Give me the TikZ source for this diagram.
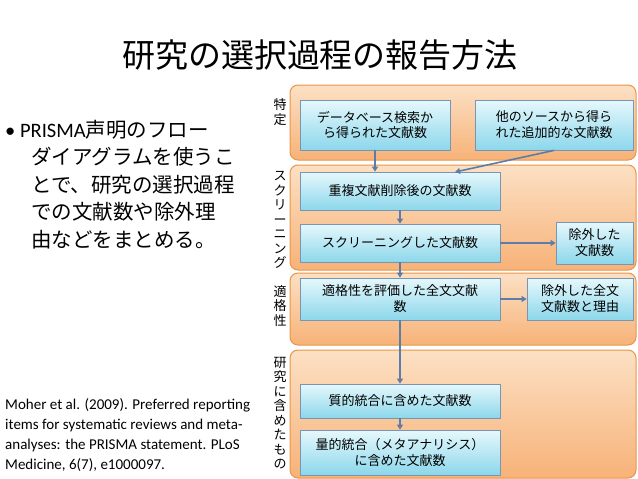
\documentclass[tikz,border=0pt]{standalone}
\usepackage{fontspec}
\setmainfont{Noto Sans CJK JP}
\newfontfamily\latinf{Carlito}
\usetikzlibrary{arrows.meta,positioning}
\definecolor{panelA}{RGB}{252,224,196}
\definecolor{panelB}{RGB}{247,178,120}
\definecolor{panelD}{RGB}{233,150,70}
\definecolor{boxA}{RGB}{230,248,252}
\definecolor{boxB}{RGB}{140,215,235}
\definecolor{boxD}{RGB}{120,150,180}
\definecolor{arr}{RGB}{90,125,170}
\tikzset{
 panel/.style={draw=panelD,line width=1pt,rounded corners=8pt,top color=panelA,bottom color=panelB},
 fbox/.style={draw=boxD,line width=0.8pt,top color=boxA,bottom color=boxB,align=center,font=\fontsize{13}{16}\selectfont,inner sep=2pt},
 conn/.style={-{Triangle[length=5pt,width=6pt]},draw=arr,line width=1.6pt},
 vlab/.style={align=center,font=\fontsize{13}{14.5}\selectfont,inner sep=0pt}
}
\begin{document}
\begin{tikzpicture}[x=1pt,y=-1pt]
\useasboundingbox[fill=white] (0,0) rectangle (638,479);
\node[font=\fontsize{33}{36}\selectfont] (title) at (320,55) {研究の選択過程の報告方法};
\node[anchor=north west,align=left,font=\fontsize{20.5}{27.5}\selectfont,inner sep=0pt] (bul) at (5,120)
 {{\latinf •\ PRISMA}声明のフロー\\\hspace{26pt}ダイアグラムを使うこ\\\hspace{26pt}とで、研究の選択過程\\\hspace{26pt}での文献数や除外理\\\hspace{26pt}由などをまとめる。};
\node[anchor=north west,align=left,font=\latinf\fontsize{15}{20}\selectfont,inner sep=0pt] (cite) at (5,398)
 {Moher et al. (2009). Preferred reporting\\items for systematic reviews and meta-\\analyses: the PRISMA statement. PLoS\\Medicine, 6(7), e1000097.};
% panels
\draw[panel] (290,85) rectangle (636,160);
\draw[panel] (290,165) rectangle (636,270);
\draw[panel] (290,273) rectangle (636,345);
\draw[panel] (290,350) rectangle (636,478);
\node[vlab] (l1) at (280,112) {特\\定};
\node[vlab] (l2) at (280,220) {ス\\ク\\リ\\ー\\ニ\\ン\\グ};
\node[vlab] (l3) at (280,306) {適\\格\\性};
\node[vlab] (l4) at (280,413) {研\\究\\に\\含\\め\\た\\も\\の};
% boxes
\node[fbox,minimum width=150pt,minimum height=50pt] (b1) at (375,125) {データベース検索か\\ら得られた文献数};
\node[fbox,minimum width=158pt,minimum height=50pt] (b2) at (554,125) {他のソースから得ら\\れた追加的な文献数};
\node[fbox,minimum width=200pt,minimum height=38pt] (b3) at (400,191) {重複文献削除後の文献数};
\node[fbox,minimum width=200pt,minimum height=38pt] (b4) at (400,243) {スクリーニングした文献数};
\node[fbox,minimum width=77pt,minimum height=42pt] (b5) at (594.5,243) {除外した\\文献数};
\node[fbox,minimum width=200pt,minimum height=42pt] (b6) at (400,299) {適格性を評価した全文文献\\数};
\node[fbox,minimum width=106pt,minimum height=42pt] (b7) at (580,299) {除外した全文\\文献数と理由};
\node[fbox,minimum width=200pt,minimum height=34pt] (b8) at (400,401) {質的統合に含めた文献数};
\node[fbox,minimum width=200pt,minimum height=45pt] (b9) at (400,452.5) {量的統合（メタアナリシス）\\に含めた文献数};
% connectors
\draw[conn] (b1.south) -- (b1.south |- b3.north);
\draw[conn] (b2.south) -- (455,172);
\draw[conn] (b3) -- (b4);
\draw[conn] (b4) -- (b5);
\draw[conn] (b4) -- (b6);
\draw[conn] (b6) -- (b7);
\draw[conn] (b6) -- (b8);
\draw[conn] (b8) -- (b9);
\end{tikzpicture}
\end{document}
